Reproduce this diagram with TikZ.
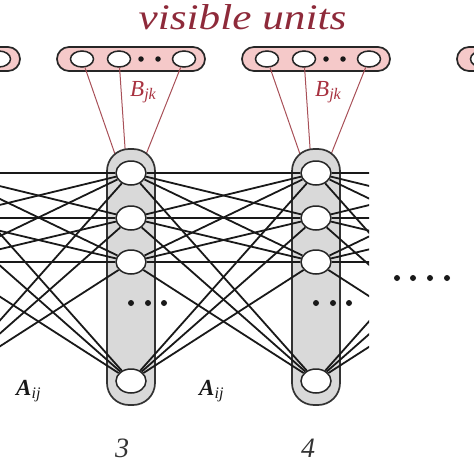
\documentclass[tikz,border=0pt]{standalone}
\usepackage{fontspec}
\setmainfont{Liberation Serif}
\usetikzlibrary{shapes.geometric}
\definecolor{pinkfill}{HTML}{F5C9C9}
\definecolor{grayfill}{HTML}{D9D9D9}
\definecolor{redline}{HTML}{A85058}
\definecolor{titlered}{HTML}{8E2A3A}
\definecolor{labred}{HTML}{A83240}
\begin{document}
\begin{tikzpicture}[x=1pt,y=-1pt,
  hid/.style={ellipse, draw=black!85, line width=1.5pt, fill=white, minimum width=30pt, minimum height=24pt, inner sep=0pt},
  vis/.style={ellipse, draw=black!85, line width=1.5pt, fill=white, minimum width=23pt, minimum height=16pt, inner sep=0pt},
  visbar/.style={rectangle, rounded corners=12pt, draw=black!85, line width=1.7pt, fill=pinkfill, minimum width=148pt, minimum height=24pt, inner sep=0pt},
  colbox/.style={rectangle, rounded corners=22pt, draw=black!80, line width=1.7pt, fill=grayfill, minimum width=48pt, minimum height=256pt, inner sep=0pt},
  dotn/.style={circle, fill=black!90, minimum size=6pt, inner sep=0pt},
  sdot/.style={circle, fill=black!90, minimum size=5.5pt, inner sep=0pt},
  conn/.style={draw=black!90, line width=1.8pt},
  redln/.style={draw=redline, line width=1pt},
  lab/.style={inner sep=0pt, anchor=base west}
]
\useasboundingbox (0,0) rectangle (474,474);
\clip (0,0) rectangle (474,474);

% visible units
\foreach \c/\x in {2/-54,3/131,4/316,5/531} {
  \node[visbar] (vb\c) at (\x,59) {};
  \node[vis] (v\c-1) at (\x-49,59) {};
  \node[vis] (v\c-2) at (\x-12,59) {};
  \node[vis] (v\c-3) at (\x+53,59) {};
  \node[sdot] (vd\c-1) at (\x+10,59) {};
  \node[sdot] (vd\c-2) at (\x+27,59) {};
}

% red connections visible -> hidden column
\foreach \c/\x in {3/131,4/316} {
  \coordinate (ra\c) at (\x-15,157);
  \coordinate (rb\c) at (\x-5.5,155);
  \coordinate (rc\c) at (\x+14,157);
  \draw[redln] (v\c-1) -- (ra\c);
  \draw[redln] (v\c-2) -- (rb\c);
  \draw[redln] (v\c-3) -- (rc\c);
}

% hidden columns
\foreach \c/\x in {2/-54,3/131,4/316} {
  \node[colbox] (col\c) at (\x,277) {};
  \node[hid] (h\c-1) at (\x,173) {};
  \node[hid] (h\c-2) at (\x,218) {};
  \node[hid] (h\c-3) at (\x,262) {};
  \node[hid] (h\c-4) at (\x,381) {};
  \node[dotn] (hd\c-1) at (\x,303) {};
  \node[dotn] (hd\c-2) at (\x+17,303) {};
  \node[dotn] (hd\c-3) at (\x+33,303) {};
}
\coordinate (h5-1) at (501,173);
\coordinate (h5-2) at (501,218);
\coordinate (h5-3) at (501,262);
\coordinate (h5-4) at (501,381);

% connections between hidden columns
\foreach \i/\j in {1/1,1/2,1/3,1/4,2/1,2/2,2/3,2/4,3/1,3/2,3/3,3/4,4/1,4/2,4/3} {
  \draw[conn] (h2-\i) -- (h3-\j);
  \draw[conn] (h3-\i) -- (h4-\j);
}
\begin{scope}
  \clip (0,0) rectangle (369,474);
  \foreach \i/\j in {1/1,1/2,1/3,1/4,2/1,2/2,2/3,2/4,3/1,3/2,3/3,3/4,4/1,4/2,4/3} {
    \draw[conn] (h4-\i) -- (h5-\j);
  }
\end{scope}

% dots between layers
\node[dotn] (m1) at (397,278) {};
\node[dotn] (m2) at (413,278) {};
\node[dotn] (m3) at (430,278) {};
\node[dotn] (m4) at (447,278) {};

% labels
\node[inner sep=0pt, anchor=base, text=titlered, font=\fontsize{36}{38}\selectfont\itshape] (title) at (242.5,29) {\scalebox{1.2}[1]{visible units}};
\node[lab, text=labred, font=\fontsize{23}{24}\selectfont\itshape] (b3) at (130,96) {B\textsubscript{jk}};
\node[lab, text=labred, font=\fontsize{23}{24}\selectfont\itshape] (b4) at (315,96) {B\textsubscript{jk}};
\node[lab, text=black!90, font=\fontsize{23}{25}\selectfont\bfseries\itshape] (a3) at (16,395) {A\textsubscript{\mdseries ij}};
\node[lab, text=black!90, font=\fontsize{23}{25}\selectfont\bfseries\itshape] (a4) at (199,395) {A\textsubscript{\mdseries ij}};
\node[inner sep=0pt, anchor=base, text=black!80, font=\fontsize{28}{30}\selectfont\itshape] (n3) at (122,457) {3};
\node[inner sep=0pt, anchor=base, text=black!80, font=\fontsize{28}{30}\selectfont\itshape] (n4) at (308,457) {4};
\end{tikzpicture}
\end{document}
